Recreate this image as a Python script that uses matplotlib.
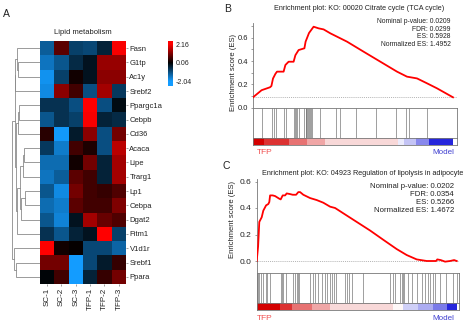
import numpy as np
import matplotlib
matplotlib.use("Agg")
import matplotlib.pyplot as plt
from matplotlib.colors import LinearSegmentedColormap, TwoSlopeNorm, Normalize

plt.rcParams['font.family'] = ['Liberation Sans', 'DejaVu Sans']

# ---------------- data ----------------
genes = ['Fasn', 'G1tp', 'Ac1y', 'Srebf2', 'Ppargc1a', 'Cebpb', 'Cd36', 'Acaca',
         'Lipe', 'Trarg1', 'Lp1', 'Cebpa', 'Dgat2', 'Fitm1', 'V1d1r', 'Srebf1', 'Ppara']
samples = ['SC-1', 'SC-2', 'SC-3', 'TFP-1', 'TFP-2', 'TFP-3']
expr = np.array([
    [-1.2, 0.8, -0.8, -0.9, -0.4, 2.1],
    [-1.5, -1.1, -0.5, -0.2, 1.3, 1.3],
    [-1.9, -0.8, 0.2, -0.2, 1.2, 1.2],
    [-1.8, 1.2, 0.6, -1.0, 1.4, -0.7],
    [-0.6, -0.6, -1.0, 2.16, -1.0, -0.1],
    [-1.1, -0.6, -0.8, 2.1, -0.4, -0.5],
    [0.4, -2.0, -0.3, 1.2, -1.0, 1.0],
    [-0.7, -1.6, 0.6, 0.3, -1.0, 1.6],
    [-1.4, -1.4, 0.2, 1.0, -0.4, 1.4],
    [-1.5, -1.2, 0.8, 0.6, -0.4, 1.4],
    [-1.1, -1.8, 1.0, 0.6, 0.5, 0.7],
    [-1.4, -1.6, 0.8, 0.6, 0.6, 1.1],
    [-1.1, -1.7, -0.2, 1.4, 0.9, 0.7],
    [-0.6, -1.1, -0.4, -0.2, 2.16, -0.8],
    [2.16, 0.2, 0.1, -0.9, -0.9, -1.3],
    [1.0, 1.0, -2.04, -0.9, -0.3, 0.5],
    [0.0, 0.6, -2.04, -0.4, 0.5, 1.0],
])
# row clustering: (left id, right id, height); leaves are 0..16
row_linkage = [
    (1, 2, 21.7), (0, 17, 23.3), (18, 3, 25.0), (4, 5, 21.5), (20, 6, 22.5),
    (7, 8, 15.7), (22, 9, 17.5), (10, 11, 15.0), (24, 12, 19.0), (23, 25, 20.0),
    (26, 13, 23.3), (21, 27, 24.0), (19, 28, 25.5), (15, 16, 24.3), (14, 30, 25.7),
    (29, 31, 28.5),
]
scale_min, scale_mid, scale_max = -2.04, 0.06, 2.16
cbar_ticks = [2.16, 0.06, -2.04]

# enrichment plot B
b_title = 'Enrichment plot: KO: 00020 Citrate cycle (TCA cycle)'
b_rank = [0.000, 0.043, 0.085, 0.092, 0.100, 0.112, 0.120, 0.153, 0.162, 0.178,
          0.203, 0.212, 0.228, 0.257, 0.263, 0.280, 0.303, 0.328, 0.353, 0.387,
          0.470, 0.553, 0.637, 0.720, 0.770, 0.820, 0.870, 0.920, 1.000]
b_es = [0.089, 0.150, 0.175, 0.186, 0.250, 0.290, 0.309, 0.309, 0.366, 0.394,
        0.394, 0.450, 0.494, 0.509, 0.566, 0.640, 0.694, 0.680, 0.671, 0.637,
        0.566, 0.480, 0.394, 0.309, 0.266, 0.251, 0.209, 0.166, 0.089]
b_hits = [0.045, 0.095, 0.103, 0.117, 0.157, 0.167, 0.203, 0.212, 0.217, 0.220,
          0.228, 0.257, 0.263, 0.267, 0.270, 0.275, 0.280, 0.287, 0.292, 0.297,
          0.333, 0.417, 0.433, 0.517, 0.617, 0.717, 0.767, 0.778, 0.870]
b_bar_edges = [0, 0.053, 0.178, 0.27, 0.362, 0.723, 0.757, 0.815, 0.882, 1.0]
b_bar_levels = [1.0, 0.8, 0.55, 0.35, 0.15, -0.08, -0.25, -0.5, -0.9]
b_baseline = 0.089
b_stats = ['Nominal p-value: 0.0209', 'FDR: 0.0299', 'ES: 0.5928', 'Normalized ES: 1.4952']

# enrichment plot C
c_title = 'Enrichment plot: KO: 04923 Regulation of lipolysis in adipocyte'
c_rank = [0.000, 0.007, 0.013, 0.025, 0.033, 0.047, 0.058, 0.063, 0.067, 0.080,
          0.092, 0.113, 0.120, 0.130, 0.142, 0.150, 0.167, 0.180, 0.197, 0.208,
          0.217, 0.233, 0.267, 0.300, 0.333, 0.367, 0.392, 0.433, 0.500, 0.567,
          0.633, 0.700, 0.750, 0.800, 0.850, 0.897, 0.903, 0.920, 0.942, 0.967,
          0.987, 1.000]
c_es = [0.000, 0.110, 0.295, 0.330, 0.380, 0.420, 0.430, 0.445, 0.495, 0.495,
        0.490, 0.470, 0.465, 0.495, 0.495, 0.510, 0.505, 0.500, 0.500, 0.520,
        0.520, 0.500, 0.475, 0.460, 0.440, 0.410, 0.400, 0.360, 0.295, 0.230,
        0.160, 0.090, 0.045, 0.012, 0.000, 0.000, 0.012, 0.007, -0.005, 0.000,
        0.007, 0.000]
c_hits = [0.003, 0.008, 0.013, 0.020, 0.033, 0.047, 0.053, 0.067, 0.120, 0.125,
          0.133, 0.147, 0.183, 0.192, 0.200, 0.208, 0.213, 0.267, 0.280, 0.292,
          0.308, 0.325, 0.342, 0.353, 0.367, 0.375, 0.387, 0.397, 0.442, 0.450,
          0.463, 0.475, 0.533, 0.667, 0.680, 0.692, 0.717, 0.725, 0.730, 0.737,
          0.758, 0.775, 0.800, 0.825, 0.842, 0.858, 0.867, 0.880, 0.892, 0.917,
          0.947, 0.980, 1.000]
c_bar_edges = [0, 0.117, 0.175, 0.275, 0.367, 0.683, 0.733, 0.808, 0.883, 0.95, 1.0]
c_bar_levels = [1.0, 0.8, 0.55, 0.35, 0.15, 0.03, -0.2, -0.35, -0.55, -0.9]
c_baseline = 0.0
c_stats = ['Nominal p-value: 0.0202', 'FDR: 0.0354', 'ES: 0.5266', 'Normalized ES: 1.4672']

# ---------------- layout helpers ----------------
W, H = 474, 324
fig = plt.figure(figsize=(W / 100, H / 100), dpi=100)
fig.patch.set_facecolor('white')


def px_axes(x0, y0, x1, y1):
    return fig.add_axes([x0 / W, 1 - y1 / H, (x1 - x0) / W, (y1 - y0) / H])


def px_text(x, y, s, **kw):
    return fig.text(x / W, 1 - y / H, s, **kw)


TXT = '#222222'
SPINE = '#777777'

# ---------------- panel A: heatmap ----------------
heat_cmap = LinearSegmentedColormap.from_list('bkr', ['#139CFF', '#000000', '#FF0000'])
heat_norm = TwoSlopeNorm(vcenter=scale_mid, vmin=scale_min, vmax=scale_max)

hx0, hy0, hx1, hy1 = 40, 41, 126, 284
ax_h = px_axes(hx0, hy0, hx1, hy1)
ax_h.imshow(expr, cmap=heat_cmap, norm=heat_norm, aspect='auto', interpolation='nearest')
ax_h.yaxis.tick_right()
ax_h.set_yticks(range(len(genes)))
ax_h.set_yticklabels(genes, fontsize=5.5, color=TXT)
ax_h.set_xticks(range(len(samples)))
ax_h.set_xticklabels(samples, fontsize=5.8, rotation=90, color=TXT)
ax_h.tick_params(axis='both', length=1.5, width=0.4, pad=1, color='#555555')
for s in ax_h.spines.values():
    s.set_visible(False)
px_text((hx0 + hx1) / 2, 33, 'Lipid metabolism', fontsize=5.5, color=TXT,
        ha='center', va='center')
px_text(6.7, 13.7, 'A', fontsize=7.5, color=TXT, ha='center', va='center')

# dendrogram
ax_d = px_axes(10, hy0, hx0, hy1)
pos = {i: (0.0, float(i)) for i in range(len(genes))}
nid = len(genes)
for left, right, h in row_linkage:
    hl, yl = pos[left]
    hr, yr = pos[right]
    ax_d.plot([hl, h, h, hr], [yl, yl, yr, yr], color='#8a8a8a', lw=0.6,
              solid_joinstyle='miter')
    pos[nid] = (h, (yl + yr) / 2)
    nid += 1
ax_d.set_xlim(30, 0)
ax_d.set_ylim(len(genes) - 0.5, -0.5)
ax_d.axis('off')

# colour scale
ax_c = px_axes(168, 41, 173, 86)
grad = np.linspace(-2.56, 2.50, 200)[:, None]
ax_c.imshow(grad, cmap=heat_cmap, norm=heat_norm, aspect='auto', origin='lower',
            extent=[0, 1, -2.56, 2.50])
ax_c.set_ylim(-2.56, 2.50)
ax_c.set_xticks([])
ax_c.yaxis.tick_right()
ax_c.set_yticks(cbar_ticks)
ax_c.set_yticklabels([f'{t:.2f}' for t in cbar_ticks], fontsize=5, color=TXT)
ax_c.tick_params(axis='y', length=0, pad=2)
for s in ax_c.spines.values():
    s.set_visible(False)

# ---------------- enrichment plots ----------------
bar_cmap = LinearSegmentedColormap.from_list('rwb', ['#1010D8', '#FFFFFF', '#D40000'])


def enrichment_panel(x0, x1, es_top, es_zero, px_per_unit, ylo, hit_bottom, bar_bottom,
                     xmax, rank, es, hits, bar_edges, bar_levels, baseline,
                     yticks, minor, tick_fs, ylabel_xy):
    es_bottom = es_zero - ylo * px_per_unit
    yhi = (es_zero - es_top) / px_per_unit
    ax = px_axes(x0, es_top, x1, es_bottom)
    ax.plot(rank, es, color='#FF0000', lw=1.3, solid_joinstyle='round', zorder=3)
    ax.axhline(baseline, color='#999999', lw=0.5, ls=(0, (1.5, 1.5)), zorder=1)
    ax.set_xlim(0, xmax)
    ax.set_ylim(ylo, yhi)
    ax.set_xticks([])
    ax.set_yticks(yticks)
    ax.set_yticklabels([f'{t:.1f}' for t in yticks], fontsize=tick_fs, color=TXT)
    if minor:
        ax.set_yticks(minor, minor=True)
    ax.tick_params(axis='y', which='both', length=1.7, width=0.5, pad=2, color=SPINE)
    ax.spines['top'].set_visible(False)
    ax.spines['right'].set_visible(False)
    for s in ('left', 'bottom'):
        ax.spines[s].set_color(SPINE)
        ax.spines[s].set_linewidth(0.6)
    ax.patch.set_alpha(0)

    axh = px_axes(x0, es_bottom, x1, hit_bottom)
    axh.vlines(hits, 0, 1, color='#6a6a6a', lw=0.45)
    axh.set_xlim(0, xmax)
    axh.set_ylim(0, 1)
    axh.set_xticks([])
    axh.set_yticks([])
    for s in axh.spines.values():
        s.set_color(SPINE)
        s.set_linewidth(0.6)

    axb = px_axes(x0, hit_bottom, x1, bar_bottom)
    axb.pcolormesh(bar_edges, [0, 1], np.array(bar_levels)[None, :], cmap=bar_cmap,
                   norm=Normalize(-1, 1), shading='flat')
    axb.set_xlim(0, xmax)
    axb.set_ylim(0, 1)
    axb.set_xticks([])
    axb.set_yticks([])
    for s in axb.spines.values():
        s.set_color(SPINE)
        s.set_linewidth(0.6)

    px_text(ylabel_xy[0], ylabel_xy[1], 'Enrichment score (ES)', fontsize=5.5,
            color=TXT, rotation=90, ha='center', va='center')
    return ax


# panel B
enrichment_panel(253, 457, 22.5, 107.7, 116.7, 0.0, 138, 145, 1.02,
                 b_rank, b_es, b_hits, b_bar_edges, b_bar_levels, b_baseline,
                 [0.0, 0.2, 0.4, 0.6], [0.1, 0.3, 0.5, 0.7], 5.5, (233.5, 72.5))
px_text(227.5, 9, 'B', fontsize=7.5, color=TXT, ha='center', va='center')
px_text(359, 8.5, b_title, fontsize=5.2, color=TXT, ha='center', va='center')
for i, s in enumerate(b_stats):
    px_text(450.7, 21.7 + 7.55 * i, s, fontsize=4.9, color=TXT, ha='right', va='center')
px_text(257, 153, 'TFP', fontsize=6, color='#F05050', ha='left', va='center')
px_text(454, 153, 'Model', fontsize=5.8, color='#4040D0', ha='right', va='center')

# panel C
enrichment_panel(256.7, 459.3, 178.9, 261, 132.5, -0.088, 303.3, 310, 1.013,
                 c_rank, c_es, c_hits, c_bar_edges, c_bar_levels, c_baseline,
                 [0.0, 0.2, 0.4, 0.6], None, 6, (232, 220))
px_text(226.5, 165.5, 'C', fontsize=7.5, color=TXT, ha='center', va='center')
px_text(362.8, 173.3, c_title, fontsize=5.2, color=TXT, ha='center', va='center')
for i, s in enumerate(c_stats):
    px_text(454, 186 + 8 * i, s, fontsize=5.6, color=TXT, ha='right', va='center')
px_text(256.7, 318, 'TFP', fontsize=6, color='#F05050', ha='left', va='center')
px_text(454, 318, 'Model', fontsize=5.8, color='#4040D0', ha='right', va='center')

fig.savefig('out.png', dpi=100, facecolor='white')
